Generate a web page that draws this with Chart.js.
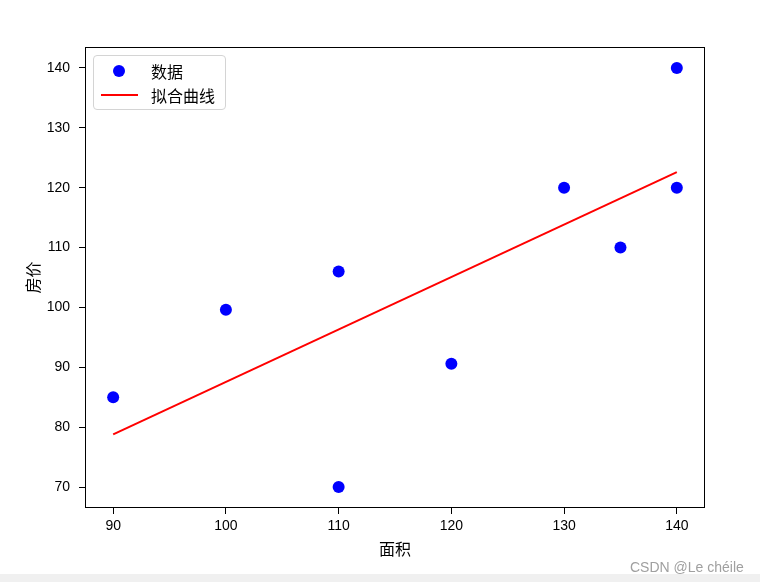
<!DOCTYPE html>
<html>
<head>
<meta charset="utf-8">
<script src="https://cdn.jsdelivr.net/npm/chart.js@4.4.1/dist/chart.umd.min.js"></script>
<style>
    html, body { margin: 0; padding: 0; background: #fff; }
    #wrap { position: relative; width: 760px; height: 582px; background: #f0f0f0; overflow: hidden; }
    #plot { position: absolute; left: 0; top: 0; width: 760px; height: 574px; background: #fff; }
    #legend {
        position: absolute; left: 93px; top: 55px; width: 131px; height: 53px;
        border: 1px solid #d4d4d4; border-radius: 4px; background: rgba(255, 255, 255, 0.8);
        font: 16px "Noto Sans CJK SC", sans-serif; color: #000;
    }
    .legend-row { position: absolute; left: 0; width: 131px; height: 24px; }
    .legend-row .dot { position: absolute; left: 19px; top: 6px; width: 12px; height: 12px; border-radius: 50%; }
    .legend-row .seg { position: absolute; left: 7px; top: 11px; width: 37px; height: 2px; }
    .legend-row .txt { position: absolute; left: 57px; top: 0; line-height: 24px; white-space: nowrap; }
    #mark {
        position: absolute; left: 630px; top: 559px;
        font: 14px "Liberation Sans", Arial, sans-serif; color: #a0a0a0; white-space: nowrap;
    }
</style>
</head>
<body>
<div id="wrap">
    <div id="plot"><canvas id="chart" width="760" height="574"></canvas></div>
    <div id="legend"></div>
    <div id="mark">CSDN @Le chéile</div>
</div>
<script>
var areaValues = [90, 100, 110, 110, 120, 130, 135, 140, 140];
var priceValues = [85, 99.6, 106, 70, 90.6, 120, 110, 120, 140];
var fitAreas = [90, 140];
var fitPrices = [78.8, 122.6];
var xTicks = [90, 100, 110, 120, 130, 140];
var yTicks = [70, 80, 90, 100, 110, 120, 130, 140];
var seriesNames = ['数据', '拟合曲线'];

(function () {
    function toPoints(xs, ys) {
        return xs.map(function (x, i) { return { x: x, y: ys[i] }; });
    }

    // black box round the plot area, like the matplotlib spines
    var framePlugin = {
        id: 'frame',
        afterDraw: function (chart) {
            var a = chart.chartArea;
            var ctx = chart.ctx;
            var l = Math.round(a.left) + 0.5, t = Math.round(a.top) + 0.5;
            var r = Math.round(a.right) - 0.5, b = Math.round(a.bottom) - 0.5;
            ctx.save();
            ctx.strokeStyle = '#000';
            ctx.lineWidth = 1;
            ctx.strokeRect(l, t, r - l, b - t);
            ctx.restore();
        }
    };

    var tickFont = { family: 'Liberation Sans', size: 14 };
    var titleFont = { family: 'Noto Sans CJK SC', size: 16 };

    var chart = new Chart(document.getElementById('chart').getContext('2d'), {
        type: 'scatter',
        data: {
            datasets: [
                {
                    label: seriesNames[0],
                    data: toPoints(areaValues, priceValues),
                    backgroundColor: '#0000ff',
                    borderColor: '#0000ff',
                    borderWidth: 0,
                    pointRadius: 6,
                    pointHoverRadius: 6
                },
                {
                    label: seriesNames[1],
                    type: 'line',
                    data: toPoints(fitAreas, fitPrices),
                    borderColor: '#ff0000',
                    backgroundColor: '#ff0000',
                    borderWidth: 2,
                    pointRadius: 0,
                    fill: false
                }
            ]
        },
        options: {
            responsive: false,
            animation: false,
            devicePixelRatio: 1,
            layout: { padding: { top: 47, right: 55, left: 0, bottom: 0 } },
            plugins: {
                legend: { display: false },
                tooltip: { enabled: false }
            },
            scales: {
                x: {
                    type: 'linear',
                    min: 87.5,
                    max: 142.5,
                    afterBuildTicks: function (s) { s.ticks = xTicks.map(function (v) { return { value: v }; }); },
                    afterFit: function (s) { s.height = 66; },
                    grid: { drawOnChartArea: false, drawTicks: true, tickLength: 6, tickColor: '#000', tickWidth: 1 },
                    border: { display: false },
                    ticks: { color: '#000', font: tickFont, padding: 4, maxRotation: 0 },
                    title: { display: true, text: '面积', color: '#000', font: titleFont, padding: { top: 0, bottom: 15 } }
                },
                y: {
                    type: 'linear',
                    min: 66.5,
                    max: 143.5,
                    afterBuildTicks: function (s) { s.ticks = yTicks.map(function (v) { return { value: v }; }); },
                    afterFit: function (s) { s.width = 85; },
                    grid: { drawOnChartArea: false, drawTicks: true, tickLength: 6, tickColor: '#000', tickWidth: 1 },
                    border: { display: false },
                    ticks: { color: '#000', font: tickFont, padding: 9 },
                    title: { display: true, text: '房价', color: '#000', font: titleFont, padding: { top: 23, bottom: 0 } }
                }
            }
        },
        plugins: [framePlugin]
    });

    // legend in the top-left corner, built from the datasets
    var legendEl = document.getElementById('legend');
    legendEl.innerHTML = chart.data.datasets.map(function (ds, i) {
        var marker = ds.type === 'line'
            ? '<span class="seg" style="background:' + ds.borderColor + '"></span>'
            : '<span class="dot" style="background:' + ds.backgroundColor + '"></span>';
        return '<div class="legend-row" style="top:' + (3 + i * 24) + 'px">' + marker +
            '<span class="txt">' + ds.label + '</span></div>';
    }).join('');
})();
</script>
</body>
</html>
